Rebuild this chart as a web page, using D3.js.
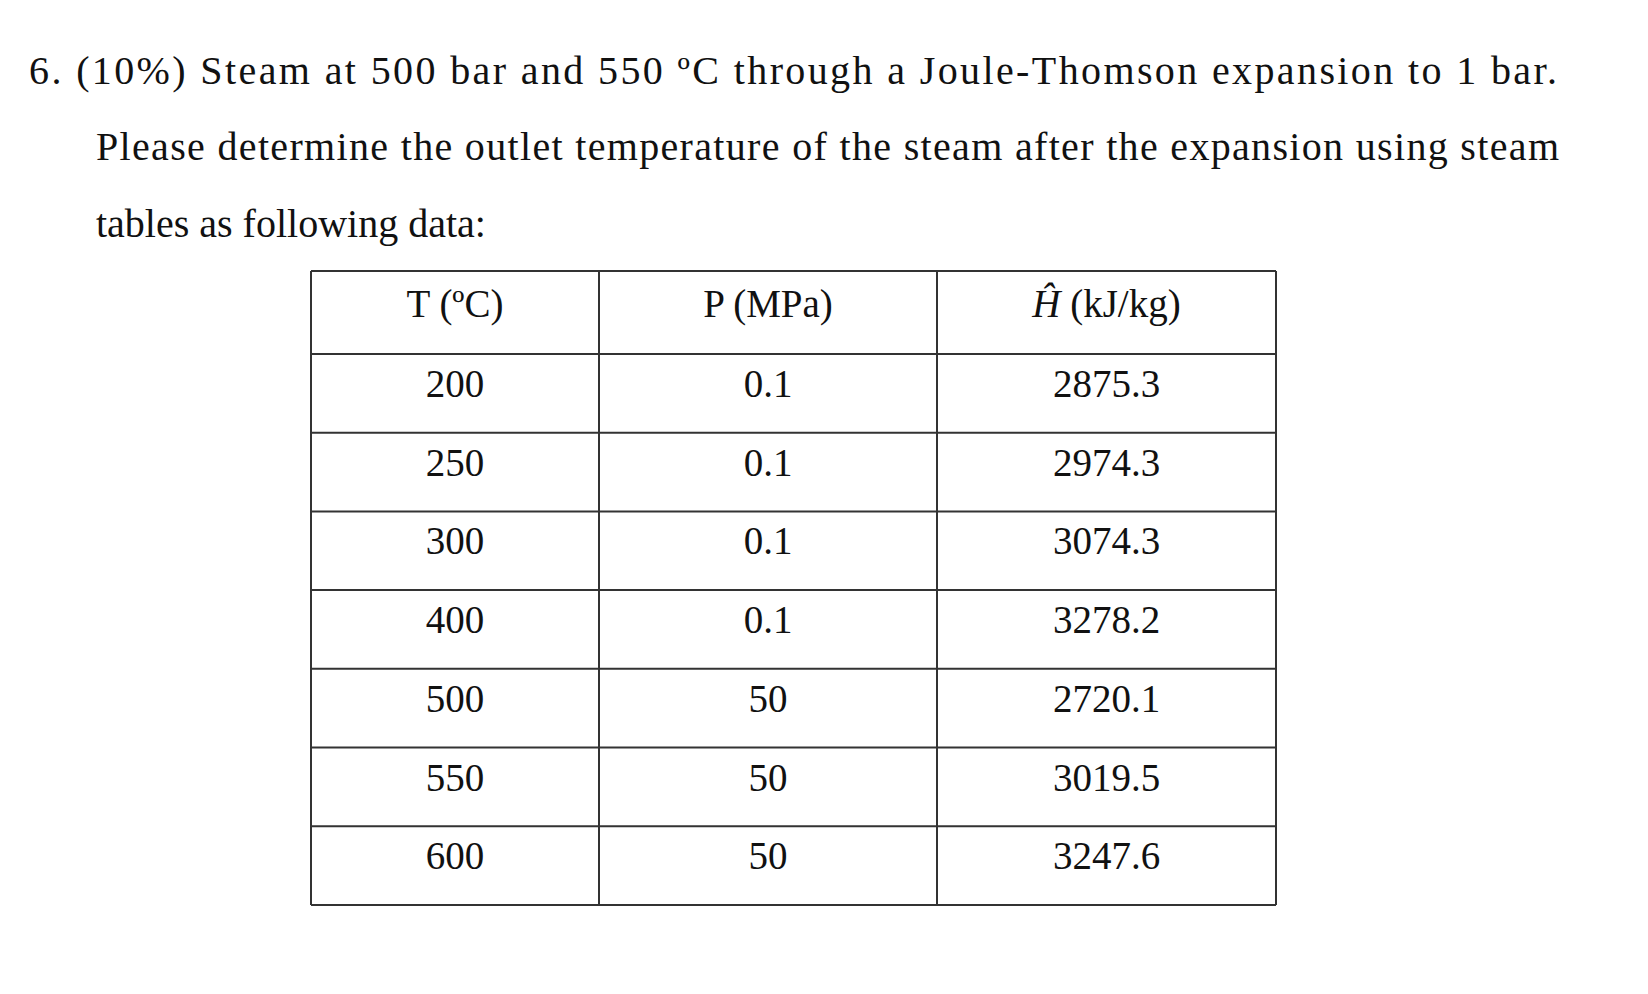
<!DOCTYPE html>
<html><head><meta charset="utf-8">
<script src="https://cdn.jsdelivr.net/npm/d3@7"></script>
<style>body{margin:0;background:#fff}</style>
</head><body>
<svg id="chart" width="1648" height="994"></svg>
<script>
const headers = ["T (ºC)", "P (MPa)", "(kJ/kg)"];
const temps = ["200", "250", "300", "400", "500", "550", "600"];
const pressures = ["0.1", "0.1", "0.1", "0.1", "50", "50", "50"];
const enthalpies = ["2875.3", "2974.3", "3074.3", "3278.2", "2720.1", "3019.5", "3247.6"];
const lines = [
    "6.  (10%) Steam at 500 bar and 550 ºC through a Joule-Thomson expansion to 1 bar.",
    "Please determine the outlet temperature of the steam after the expansion using steam",
    "tables as following data:"
];

const svg = d3.select("#chart");
const font = "'Liberation Serif', 'Times New Roman', serif";

// paragraph
const lineX = [29, 96, 96], lineY = [84, 160, 237], lineLen = [1528, 1463, null];
lines.forEach((t, i) => {
    const el = svg.append("text").attr("x", lineX[i]).attr("y", lineY[i])
        .attr("font-family", font).attr("font-size", 40).attr("fill", "#111").text(t);
    if (lineLen[i]) el.attr("textLength", lineLen[i]).attr("lengthAdjust", "spacing");
});

// table
const colEdges = [311, 599, 937, 1276];
const tableTop = 271, headH = 83, rowH = 78.7;
const y = d3.scaleLinear().domain([0, temps.length]).range([tableTop + headH, tableTop + headH + rowH * temps.length]);
const g = svg.append("g").attr("stroke", "#333").attr("stroke-width", 2);
g.append("line").attr("x1", colEdges[0]).attr("x2", colEdges[3]).attr("y1", tableTop).attr("y2", tableTop);
d3.range(temps.length + 1).forEach(i =>
    g.append("line").attr("x1", colEdges[0]).attr("x2", colEdges[3]).attr("y1", y(i)).attr("y2", y(i)));
colEdges.forEach(x =>
    g.append("line").attr("x1", x).attr("x2", x).attr("y1", tableTop).attr("y2", y(temps.length)));

const cx = i => (colEdges[i] + colEdges[i + 1]) / 2;
headers.forEach((h, i) => {
    const t = svg.append("text").attr("x", cx(i)).attr("y", tableTop + 32).attr("dy", "0.35em")
        .attr("text-anchor", "middle").attr("font-family", font).attr("font-size", 39).attr("fill", "#111");
    if (i === 2) {
        t.append("tspan").attr("font-style", "italic").text("H\u0302");
        t.append("tspan").text(" " + h);
    } else t.text(h);
});
[temps, pressures, enthalpies].forEach((col, ci) => {
    svg.selectAll(null).data(col).join("text")
        .attr("x", cx(ci)).attr("y", (d, i) => (y(i) + y(i + 1)) / 2 - 10).attr("dy", "0.35em")
        .attr("text-anchor", "middle").attr("font-family", font).attr("font-size", 39).attr("fill", "#111")
        .text(d => d);
});
</script>
</body></html>
